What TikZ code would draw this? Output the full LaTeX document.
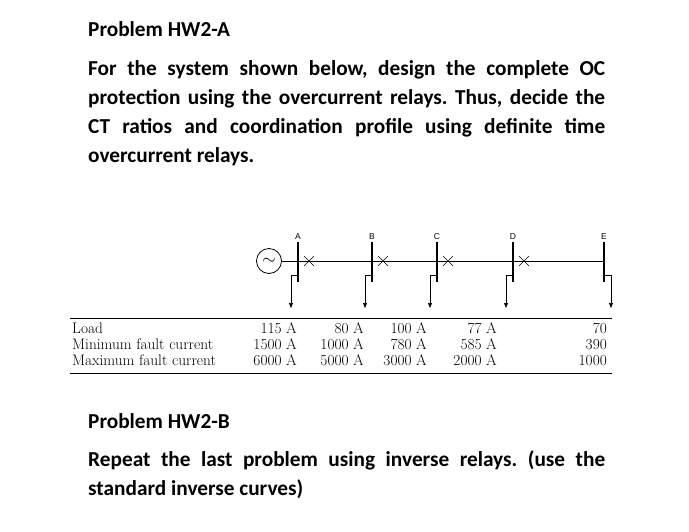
\documentclass[tikz,border=0pt]{standalone}
\usepackage{fontspec}
\setmainfont{Latin Modern Roman}
\newfontfamily\headfont{Carlito}
\newfontfamily\busfont{Liberation Sans}
\usetikzlibrary{arrows.meta}
\frenchspacing
\begin{document}
\begin{tikzpicture}[
    x=1pt, y=-1pt,
    every node/.style={inner sep=0pt},
    head/.style={anchor=base west, font=\headfont\bfseries\fontsize{21.3}{24}\selectfont},
    busbar/.style={line width=2pt},
    buslabel/.style={font=\busfont\fontsize{8.5}{10}\selectfont},
    cell/.style={anchor=base east, font=\fontsize{15.3}{18}\selectfont},
    rowlabel/.style={anchor=base west, font=\fontsize{15.3}{18}\selectfont},
    feeder/.style={line width=0.6pt},
    loadarrow/.style={line width=0.6pt, -{Triangle[width=4pt,length=5pt]}},
]
    \useasboundingbox (0,0) rectangle (689,531);

    % text above
    \node[head] (titleA) at (88, 36) {Problem HW2-A};
    \node[head] (l1) at (88, 75) {\makebox[517pt][s]{For the system shown below, design the complete OC}};
    \node[head] (l2) at (88, 104) {\makebox[517pt][s]{protection using the overcurrent relays. Thus, decide the}};
    \node[head] (l3) at (88, 133) {\makebox[517pt][s]{CT ratios and coordination profile using definite time}};
    \node[head] (l4) at (88, 162) {overcurrent relays.};

    % generator and busbars
    \node[draw, circle, line width=0.8pt, minimum size=25pt] (gen) at (269, 261) {\LARGE$\sim$};
    \foreach \name/\x in {A/298, B/372, C/437, D/513, E/604} {
        \coordinate (\name top) at (\x, 242);
        \coordinate (\name bot) at (\x, 282);
        \coordinate (\name mid) at (\x, 261);
        \draw[busbar] (\name top) -- (\name bot);
        \node[buslabel, anchor=south] (lab\name) at ([yshift=2pt]\name top) {\name};
    }
    \draw[feeder] (gen) -- (Emid);

    % breakers
    \foreach \name in {A, B, C, D} {
        \draw[feeder] ([shift={(6,-5)}]\name mid) -- ++(10,10)
                      ([shift={(6,5)}]\name mid) -- ++(10,-10);
    }

    % loads
    \foreach \name in {A, B, C, D} {
        \draw[loadarrow] ([yshift=-14pt]\name mid) -- ++(-7,0) -- ++(0,33);
    }
    \draw[loadarrow] ([yshift=-14pt]Emid) -- ++(7,0) -- ++(0,33);

    % table
    \draw[line width=0.8pt] (70, 318) -- (612, 318);
    \draw[line width=0.8pt] (70, 373) -- (612, 373);
    \node[rowlabel] (load) at (72, 333) {Load};
    \node[rowlabel] (minf) at (72, 349) {Minimum fault current};
    \node[rowlabel] (maxf) at (72, 365) {Maximum fault current};
    \foreach \x/\a/\b/\c in {297/115 A/1500 A/6000 A, 364/80 A/1000 A/5000 A,
                             427/100 A/780 A/3000 A, 497/77 A/585 A/2000 A,
                             607/70/390/1000} {
        \node[cell] at (\x, 333) {\a};
        \node[cell] at (\x, 349) {\b};
        \node[cell] at (\x, 365) {\c};
    }

    % text below
    \node[head] (titleB) at (88, 428) {Problem HW2-B};
    \node[head] (m1) at (88, 466) {\makebox[517pt][s]{Repeat the last problem using inverse relays. (use the}};
    \node[head] (m2) at (88, 495) {standard inverse curves)};
\end{tikzpicture}
\end{document}
